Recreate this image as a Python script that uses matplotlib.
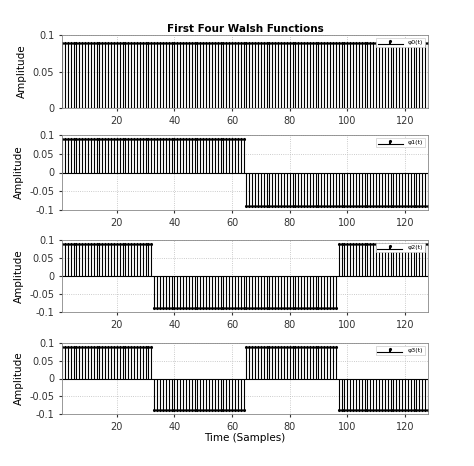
import matplotlib
matplotlib.use('Agg')
import matplotlib.pyplot as plt
import numpy as np

amp = 0.0884
n = 128
# signs per quarter of the samples for each Walsh function
quarter_signs = {
    'φ0(t)': [1, 1, 1, 1],
    'φ1(t)': [1, 1, -1, -1],
    'φ2(t)': [1, -1, -1, 1],
    'φ3(t)': [1, -1, 1, -1],
}
ylims = [(0, 0.1), (-0.1, 0.1), (-0.1, 0.1), (-0.1, 0.1)]
yticks = [[0, 0.05, 0.1], [-0.1, -0.05, 0, 0.05, 0.1], [-0.1, -0.05, 0, 0.05, 0.1], [-0.1, -0.05, 0, 0.05, 0.1]]
ytl = [['0', '0.05', '0.1'], ['-0.1', '-0.05', '0', '0.05', '0.1']]

fig = plt.figure(figsize=(4.74, 4.66), dpi=100)
tops = [35, 135, 240, 343]
bots = [108, 210, 312, 414]
x = np.arange(1, n + 1)
for i, (lab, qs) in enumerate(quarter_signs.items()):
    y = amp * np.repeat(qs, n // 4)
    l, r = 62 / 474, 428 / 474
    ax = fig.add_axes([l, 1 - bots[i] / 466, r - l, (bots[i] - tops[i]) / 466])
    ml, sl, bl = ax.stem(x, y, linefmt='k-', markerfmt='k.', basefmt='k-', label=lab)
    ml.set_markersize(2.5)
    sl.set_linewidth(0.8)
    bl.set_linewidth(0.8)
    ax.set_xlim(1, 128)
    ax.set_ylim(*ylims[i])
    ax.set_yticks(yticks[i])
    ax.set_yticklabels(ytl[0] if i == 0 else ytl[1])
    ax.set_xticks([20, 40, 60, 80, 100, 120])
    ax.grid(True, linestyle=':', color='#bbbbbb', linewidth=0.6)
    ax.tick_params(labelsize=7, length=2, colors='#333333')
    for s in ax.spines.values():
        s.set_color('#888888'); s.set_linewidth(0.6)
    ax.set_ylabel('Amplitude', fontsize=7.5)
    leg = ax.legend(loc='upper right', fontsize=4.5, handlelength=4, fancybox=False,
                    framealpha=1, borderpad=0.3)
    leg.get_frame().set_linewidth(0.5)
    if i == 0:
        ax.set_title('First Four Walsh Functions', fontsize=7.5, fontweight='bold', pad=2)
    if i == 3:
        ax.set_xlabel('Time (Samples)', fontsize=7.5, labelpad=1)
fig.savefig('out.png', dpi=100)
